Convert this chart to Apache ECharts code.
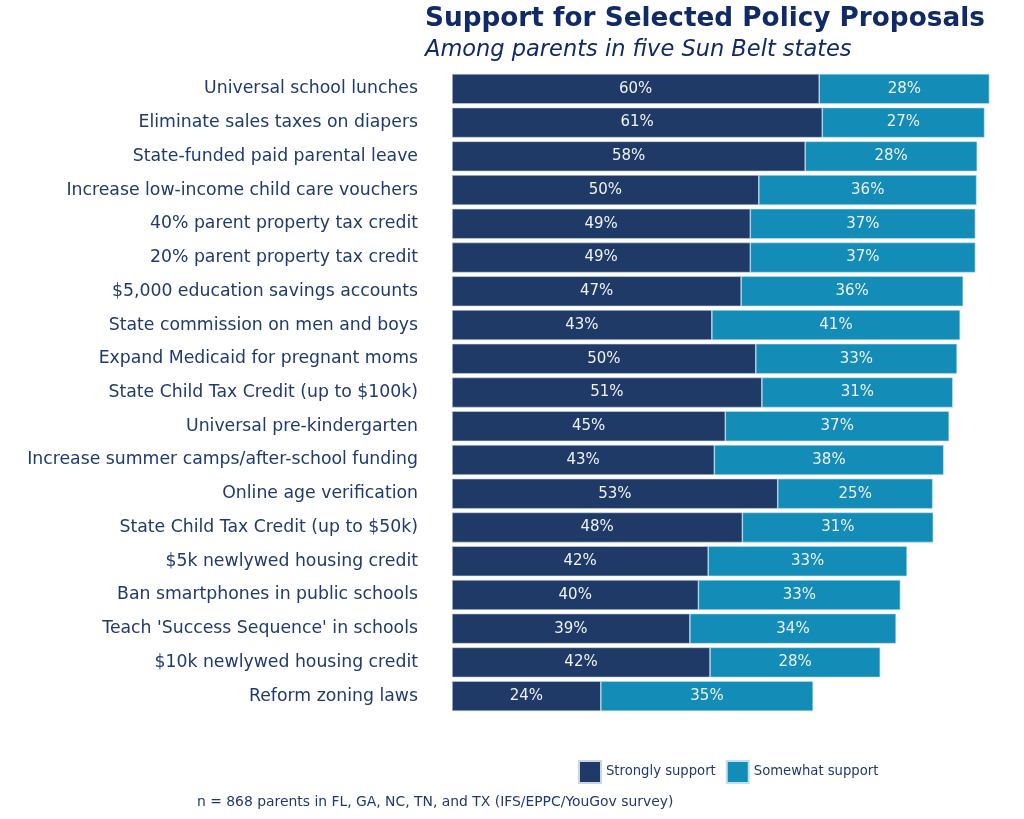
<!DOCTYPE html>
<html>
<head>
<meta charset="utf-8">
<script src="https://cdn.jsdelivr.net/npm/echarts@6/dist/echarts.min.js"></script>
<style>
  html, body { margin: 0; padding: 0; background: #fff; }
  #main { width: 1024px; height: 819px; }
</style>
</head>
<body>
<div id="main"></div>
<script>
const categories = [
  'Universal school lunches',
  'Eliminate sales taxes on diapers',
  'State-funded paid parental leave',
  'Increase low-income child care vouchers',
  '40% parent property tax credit',
  '20% parent property tax credit',
  '$5,000 education savings accounts',
  'State commission on men and boys',
  'Expand Medicaid for pregnant moms',
  'State Child Tax Credit (up to $100k)',
  'Universal pre-kindergarten',
  'Increase summer camps/after-school funding',
  'Online age verification',
  'State Child Tax Credit (up to $50k)',
  '$5k newlywed housing credit',
  'Ban smartphones in public schools',
  "Teach 'Success Sequence' in schools",
  '$10k newlywed housing credit',
  'Reform zoning laws'
]
const strongly = [60.2, 60.7, 57.9, 50.3, 48.9, 48.9, 47.4, 42.6, 49.8, 50.8, 44.8, 43.0, 53.4, 47.6, 42.0, 40.4, 39.0, 42.3, 24.4]
const somewhat = [27.9, 26.6, 28.2, 35.7, 36.9, 36.9, 36.4, 40.7, 33.0, 31.3, 36.7, 37.6, 25.4, 31.3, 32.6, 33.1, 33.8, 27.9, 34.8]

const FONT = 'DejaVu Sans'
const DARK = '#203a67'
const LIGHT = '#138cb8'
const TEXT = '#1f3a6e'

const chart = echarts.init(document.getElementById('main'), null, { renderer: 'canvas' })

const labelOpt = {
  show: true,
  position: 'inside',
  color: '#eef2f7',
  fontFamily: FONT,
  fontSize: 15,
  formatter: p => Math.round(p.value) + '%'
}

const option = {
  backgroundColor: '#fff',
  animation: false,
  title: [
    {
      text: 'Support for Selected Policy Proposals',
      left: 425, top: 6, padding: 0,
      textStyle: { fontFamily: FONT, fontWeight: 'bold', fontSize: 26.3, color: '#0f2a66' }
    },
    {
      text: 'Among parents in five Sun Belt states',
      left: 425, top: 39, padding: 0,
      textStyle: { fontFamily: FONT, fontStyle: 'italic', fontWeight: 'normal', fontSize: 22.5, color: '#0f2a66' }
    },
    {
      text: 'n = 868 parents in FL, GA, NC, TN, and TX (IFS/EPPC/YouGov survey)',
      left: 197, top: 795, padding: 0,
      textStyle: { fontFamily: FONT, fontWeight: 'normal', fontSize: 13.9, color: TEXT }
    }
  ],
  legend: {
    data: ['Strongly support', 'Somewhat support'],
    left: 578, top: 760, padding: 0,
    itemWidth: 22, itemHeight: 22,
    itemGap: 10,
    icon: 'rect',
    textStyle: { fontFamily: FONT, fontSize: 13.2, color: TEXT }
  },
  grid: { left: 452, right: 23, top: 72, bottom: 106, containLabel: false },
  xAxis: {
    type: 'value', min: 0, max: 90,
    show: false
  },
  yAxis: {
    type: 'category',
    data: categories,
    inverse: true,
    axisLine: { show: false },
    axisTick: { show: false },
    axisLabel: { fontFamily: FONT, fontSize: 17.3, color: TEXT, margin: 34, padding: [3, 0, 0, 0] }
  },
  series: [
    {
      name: 'Strongly support', type: 'bar', stack: 'all',
      data: strongly,
      barCategoryGap: '11%',
      itemStyle: { color: DARK, borderColor: '#c9d6e6', borderWidth: 0.6 },
      label: labelOpt
    },
    {
      name: 'Somewhat support', type: 'bar', stack: 'all',
      data: somewhat,
      barCategoryGap: '11%',
      itemStyle: { color: LIGHT, borderColor: '#bfe0ee', borderWidth: 0.6 },
      label: labelOpt
    }
  ]
}

chart.setOption(option)
</script>
</body>
</html>
